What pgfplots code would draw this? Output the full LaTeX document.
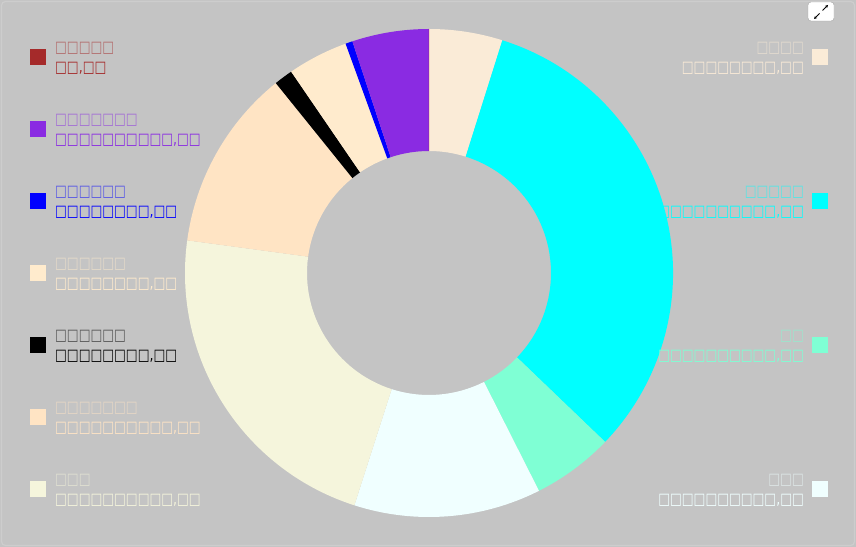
\documentclass[border=0pt]{standalone}
\usepackage[svgnames]{xcolor}
\usepackage{pgfplots}
\usepackage{pgfplotstable}
\pgfplotsset{compat=1.18}
\usepackage{fontspec}
\setmainfont{DejaVu Sans}
\usetikzlibrary{arrows.meta}

\definecolor{bg}{HTML}{C4C4C4}
\definecolor{rim}{HTML}{CDCDCD}

% share of each slice, clockwise from 12 o'clock
\pgfplotstableread{
value color
4.86 AntiqueWhite
32.31 Aqua
5.39 Aquamarine
12.39 Azure
22.19 Beige
12.06 Bisque
1.25 Black
4.00 BlanchedAlmond
0.47 Blue
5.08 BlueViolet
0.005 Brown
}\slices

\newfontfamily\boxfont[FakeStretch=0.78]{DejaVu Sans}
\newcommand\tf{\boxfont\fontsize{16bp}{18bp}\selectfont}
% legend entry on the left: screen y of marker, colour, name, value
\newcommand\lentry[4]{%
  \fill[#2] (axis cs:30,{547-#1+8}) rectangle (axis cs:46,{547-#1-8});
  \node[anchor=base west, inner sep=0, text=#2, text opacity=0.55, font=\tf] at (axis cs:55,{547-#1+4}) {#3};
  \node[anchor=base west, inner sep=0, text=#2, font=\tf] at (axis cs:55,{547-#1-16}) {#4};
}
\newcommand\rentry[4]{%
  \fill[#2] (axis cs:812,{547-#1+8}) rectangle (axis cs:828,{547-#1-8});
  \node[anchor=base east, inner sep=0, text=#2, text opacity=0.55, font=\tf] at (axis cs:804,{547-#1+4}) {#3};
  \node[anchor=base east, inner sep=0, text=#2, font=\tf] at (axis cs:804,{547-#1-16}) {#4};
}

\begin{document}
\begin{tikzpicture}
\begin{axis}[
    width=856bp, height=547bp, scale only axis,
    hide axis, clip=false,
    xmin=0, xmax=856, ymin=0, ymax=547,
]
\fill[bg] (axis cs:0,0) rectangle (axis cs:856,547);
\draw[rim, line width=1.2bp, rounded corners=4bp] (axis cs:1.5,1.5) rectangle (axis cs:854.5,545.5);

% donut
\pgfplotstablegetrowsof{\slices}
\pgfmathtruncatemacro\lastrow{\pgfplotsretval-1}
\def\total{0}
\pgfplotsforeachungrouped \i in {0,...,\lastrow}{%
  \pgfplotstablegetelem{\i}{value}\of\slices
  \pgfmathsetmacro\total{\total+\pgfplotsretval}%
}
\def\cum{0}
\pgfplotsforeachungrouped \i in {0,...,\lastrow}{%
  \pgfplotstablegetelem{\i}{value}\of\slices \let\v\pgfplotsretval
  \pgfplotstablegetelem{\i}{color}\of\slices \let\c\pgfplotsretval
  \pgfmathsetmacro\aa{90-(\cum/\total)*360}%
  \pgfmathsetmacro\cum{\cum+\v}%
  \pgfmathsetmacro\bb{90-(\cum/\total)*360}%
  \edef\temp{\noexpand\fill[\c] (axis cs:{429+244*cos(\aa)},{274+244*sin(\aa)})
     arc[start angle=\aa, end angle=\bb, radius=244bp]
     -- (axis cs:{429+122*cos(\bb)},{274+122*sin(\bb)})
     arc[start angle=\bb, end angle=\aa, radius=122bp] -- cycle;}%
  \temp
}

% legend
\lentry{57}{Brown}{□□□□□}{□□,□□}
\lentry{129}{BlueViolet}{□□□□□□□}{□□□□□□□□□□,□□}
\lentry{201}{Blue}{□□□□□□}{□□□□□□□□,□□}
\lentry{273}{BlanchedAlmond}{□□□□□□}{□□□□□□□□,□□}
\lentry{345}{Black}{□□□□□□}{□□□□□□□□,□□}
\lentry{417}{Bisque}{□□□□□□□}{□□□□□□□□□□,□□}
\lentry{489}{Beige}{□□□}{□□□□□□□□□□,□□}
\rentry{57}{AntiqueWhite}{□□□□}{□□□□□□□□,□□}
\rentry{201}{Aqua}{□□□□□}{□□□□□□□□□□,□□}
\rentry{345}{Aquamarine}{□□}{□□□□□□□□□□,□□}
\rentry{489}{Azure}{□□□}{□□□□□□□□□□,□□}

% expand button
\draw[fill=white, draw=gray!70, rounded corners=3bp] (axis cs:808,545) rectangle (axis cs:834,526);
\draw[line width=0.9bp, -{Stealth[length=3bp,width=3bp]}] (axis cs:822.5,536.5) -- (axis cs:828,542);
\draw[line width=0.9bp, -{Stealth[length=3bp,width=3bp]}] (axis cs:819.5,533.5) -- (axis cs:814,528);
\end{axis}
\end{tikzpicture}
\end{document}
